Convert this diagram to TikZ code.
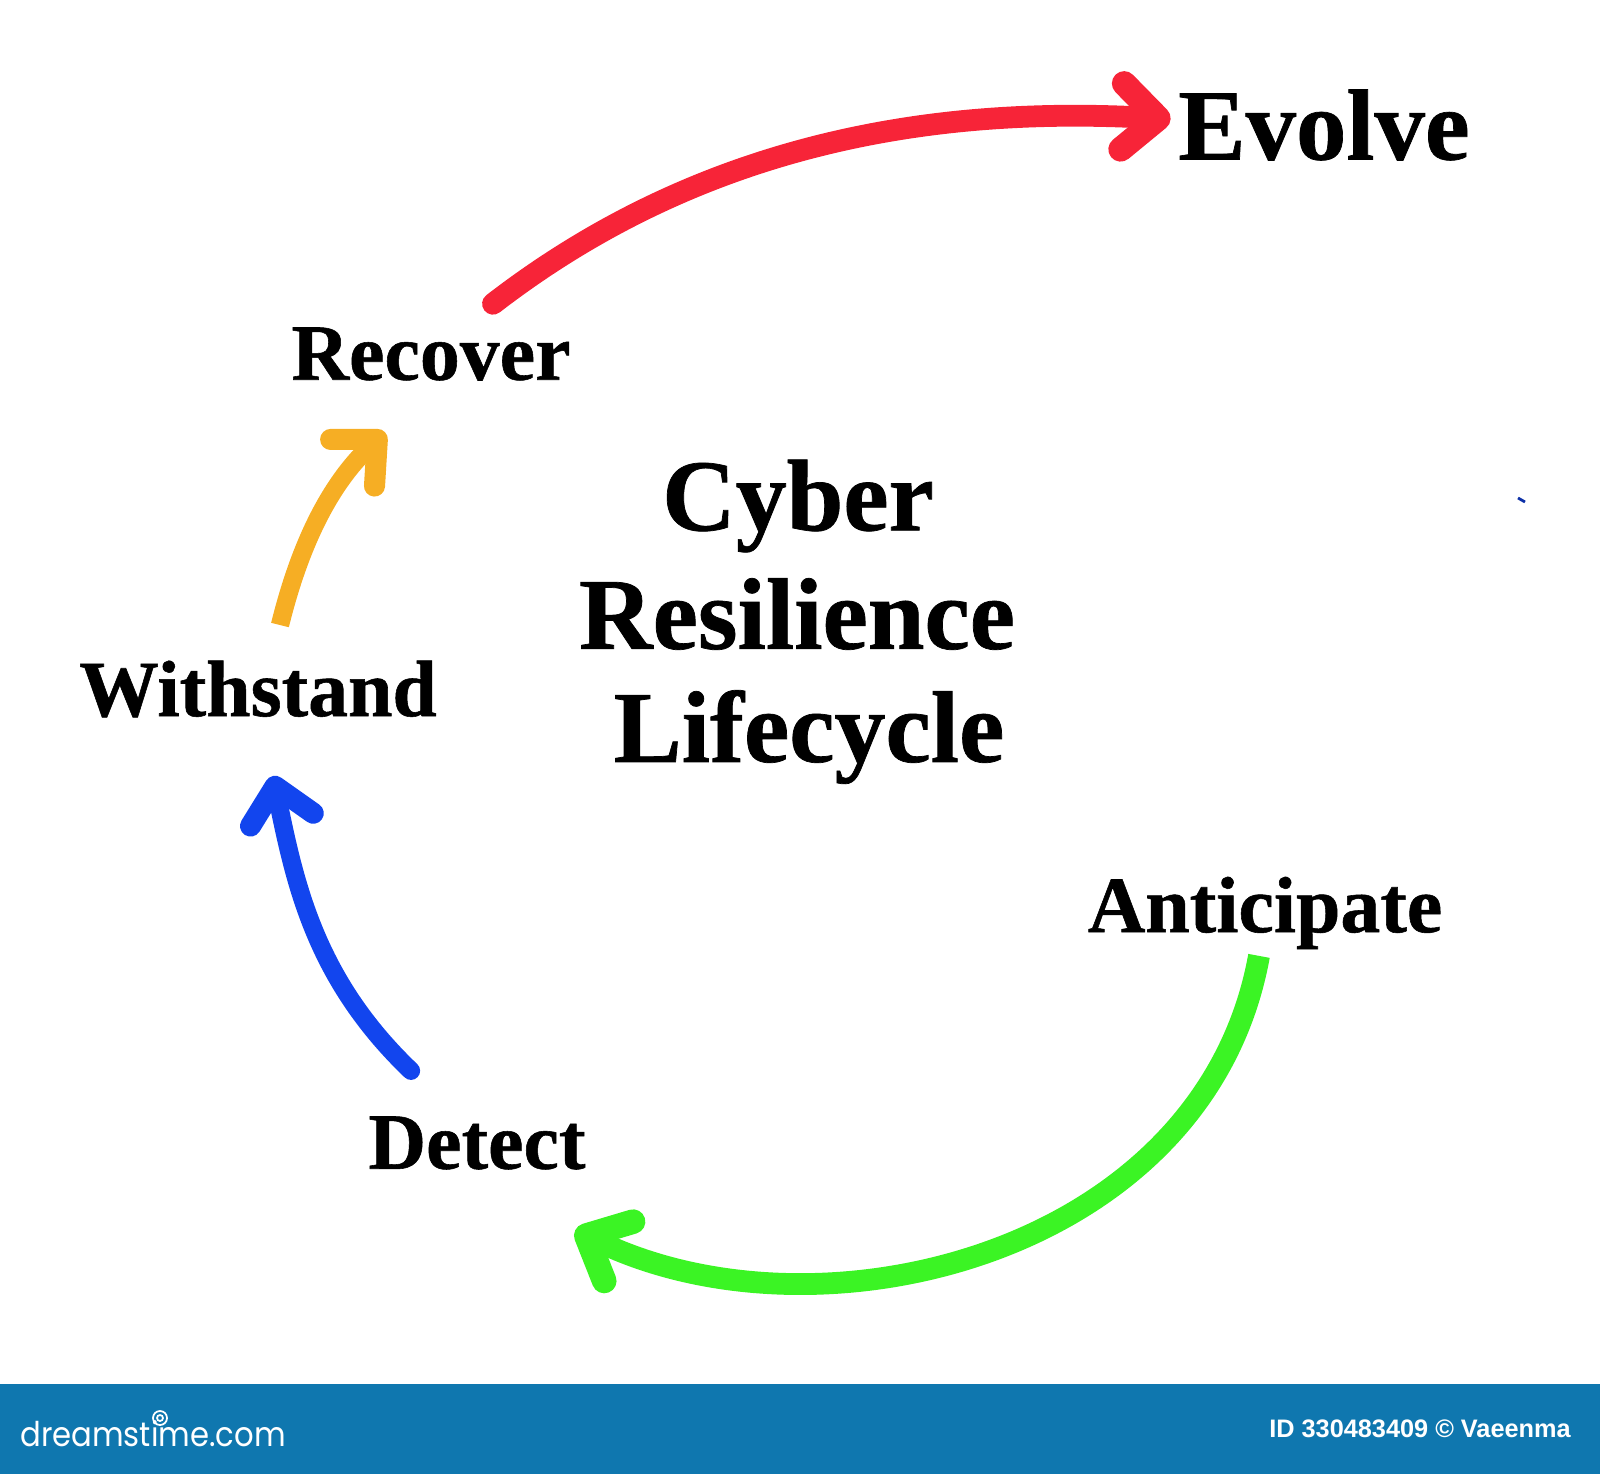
\documentclass[tikz,border=0pt]{standalone}
\usepackage{fontspec}
\setmainfont{Liberation Serif}[BoldFeatures={FakeBold=0.7}]
\newfontfamily\logofont{Poppins}[FakeStretch=0.9]
\newfontfamily\creditfont{Liberation Sans}
\usetikzlibrary{arrows.meta,calc}
\definecolor{redarrow}{HTML}{F72438}
\definecolor{orangearrow}{HTML}{F6AE24}
\definecolor{bluearrow}{HTML}{1245EE}
\definecolor{greenarrow}{HTML}{3BF424}
\definecolor{bannerblue}{HTML}{0F77AF}

\begin{document}
\begin{tikzpicture}[
  stage/.style={font=\fontsize{22.7}{27}\selectfont\bfseries, inner sep=0pt, text=black},
  final/.style={font=\fontsize{28.7}{34}\selectfont\bfseries, inner sep=0pt, text=black},
  title/.style={font=\fontsize{29}{35}\selectfont\bfseries, inner sep=0pt, text=black},
  flow/.style={line width=5.2pt, -{Straight Barb[round,length=3.4mm,width=6.4mm,line width=6pt]}},
  flowwide/.style={line width=6.2pt, -{Straight Barb[round,length=3.6mm,width=6.6mm,line width=7pt]}},
]
\useasboundingbox (0,0) rectangle (16,14.74);

% ─── Banner ───
\fill[bannerblue] (0,0) rectangle (16,0.90);
\node[inner sep=0pt, text=white, font=\logofont\fontsize{9.7}{12}\selectfont] (logo) at (1.53,0.40) {dreamstime.com};
\node[inner sep=0pt, text=white, font=\creditfont\bfseries\fontsize{7.2}{9}\selectfont] (credit) at (14.20,0.45) {ID 330483409 © Vaeenma};
\draw[white, line width=0.5pt] (1.60,0.56) circle (0.07);
\draw[white, line width=0.5pt] (1.60,0.56) circle (0.03);

% Stages
\node[final] (evolve) at (13.24,13.49) {Evolve};
\node[stage] (recover) at (4.31,11.20) {Recover};
\node[stage] (withstand) at (2.58,7.85) {Withstand};
\node[stage] (detect) at (4.77,3.31) {Detect};
\node[stage] (anticipate) at (12.65,5.61) {Anticipate};

% Centre title
\node[title] (cyber) at (7.98,9.68) {Cyber};
\node[title] (resilience) at (7.97,8.60) {Resilience};
\node[title] (lifecycle) at (8.09,7.37) {Lifecycle};

% Stray mark
\draw[bluearrow!70!black, line width=0.8pt] (15.18,9.76) -- (15.25,9.72);

% Arrows between the stages
\draw[flowwide, greenarrow, line cap=butt] ($(anticipate.south)+(-0.06,-0.06)$) .. controls (12.05,2.2) and (8.2,1.25) .. ($(detect.south east)+(-0.11,-0.60)$);
\draw[flow, bluearrow, line cap=round] ($(detect.north)+(-0.66,0.45)$) .. controls (3.15,4.95) and (2.95,5.9) .. ($(withstand.south)+(0.15,-0.58)$);
\draw[flow, orangearrow, line cap=butt] ($(withstand.north)+(0.22,0.35)$) .. controls (3.0,9.3) and (3.3,9.9) .. ($(recover.south)+(-0.46,-0.51)$);
\draw[flowwide, redarrow, line cap=round] ($(recover.north)+(0.62,0.23)$) .. controls (7.0,13.3) and (9.3,13.68) .. ($(evolve.west)+(-0.07,0.06)$);

\end{tikzpicture}
\end{document}
